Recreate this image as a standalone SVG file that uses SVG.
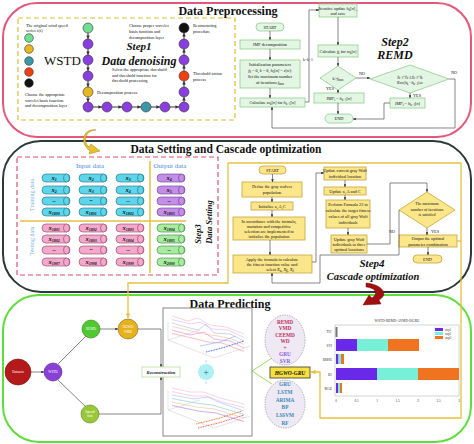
<svg xmlns="http://www.w3.org/2000/svg" width="474" height="444" viewBox="0 0 474 444">
<style>
text{font-family:"Liberation Serif","DejaVu Serif",serif;fill:#111}
.t{font-size:12px;font-weight:bold;text-anchor:middle}
.s{font-size:4.3px;text-anchor:middle}
.sl{font-size:4.3px}
.sb{font-size:3px}
.bi{font-weight:bold;font-style:italic;text-anchor:middle}
.g2{fill:#e3f5e3;stroke:#8fcf8f;stroke-width:0.8}
.y4{fill:#fbe68a;stroke:#c9a43a;stroke-width:0.8}
.ln{fill:none;stroke:#555;stroke-width:0.7}
.la{fill:none;stroke:#555;stroke-width:0.7;marker-end:url(#ah)}
.ch{fill:none;stroke:#222;stroke-width:0.9;marker-end:url(#ah)}
.cp{fill:#8a3ee0;stroke:#333;stroke-width:0.6}
.yl{fill:none;stroke:#e6c040;stroke-width:1.3}
.xl{font-size:6.5px;font-style:italic;font-weight:bold;text-anchor:middle}
.xs{font-size:4px}
.ci{fill:#5dd5ea;stroke:#1f6f80;stroke-width:0.6}
.co{fill:#c48ee8;stroke:#6a3a90;stroke-width:0.6}
.ti{fill:#f4a8cc;stroke:#904060;stroke-width:0.6}
.to{fill:#a8eca0;stroke:#3a8040;stroke-width:0.6}
.nw{fill:#fff;font-size:3.4px;text-anchor:middle}
.gl{fill:none;stroke:#666;stroke-width:0.8}
.m1{font-size:5.3px;font-weight:bold;text-anchor:middle;fill:#c0305a}
.m2{font-size:5.3px;font-weight:bold;text-anchor:middle;fill:#8a60e0}
.m3{font-size:5.3px;font-weight:bold;text-anchor:middle;fill:#3a8ab0}
.ax{font-size:3.4px;fill:#333}
.pl{fill:none;stroke-width:0.5}
</style>
<defs>
<marker id="ah" viewBox="0 0 6 6" refX="6" refY="3" markerWidth="4" markerHeight="4" orient="auto"><path d="M0,0L6,3L0,6z" fill="#333"/></marker>
<marker id="ay" viewBox="0 0 6 6" refX="6" refY="3" markerWidth="3.5" markerHeight="3.5" orient="auto"><path d="M0,0L6,3L0,6z" fill="#e6c040"/></marker>
<g id="cy"><rect x="0" y="-4" width="28" height="8" rx="4"/><ellipse cx="24.5" cy="0" rx="3" ry="4"/></g>
</defs>
<rect width="474" height="444" fill="#fff"/>

<g id="section1">
<rect x="3" y="3" width="468" height="134" rx="34" fill="#fff" stroke="#e4587a" stroke-width="2"/>
<text x="228" y="15" class="t">Data  Preprocessing</text>
</g>

<g id="step1">
<rect x="18" y="18" width="217" height="102" fill="none" stroke="#dcc030" stroke-width="1.2" stroke-dasharray="5,3"/>
<text x="26" y="27" class="sl">The original wind speed</text>
<text x="26" y="32" class="sl">series  s(t)</text>
<circle cx="29" cy="38" r="4.3" fill="#70e090" stroke="#333" stroke-width="0.6"/>
<circle cx="29" cy="49" r="4.3" fill="#e8b820" stroke="#333" stroke-width="0.6"/>
<circle cx="29" cy="61" r="4.3" fill="#3a98a8" stroke="#333" stroke-width="0.6"/>
<circle cx="29" cy="72" r="4.3" fill="#f04010" stroke="#333" stroke-width="0.6"/>
<circle cx="29" cy="83" r="4.3" fill="#111" stroke="#333" stroke-width="0.6"/>
<text x="44" y="65" style="font-size:13px">WSTD</text>
<text x="25" y="96" class="sl">Choose the appropriate</text>
<text x="25" y="101.5" class="sl">wavelet basis function</text>
<text x="25" y="107" class="sl">and decomposition layer</text>
<g id="chain">
<circle cx="88" cy="28" r="5" fill="#70e090" stroke="#333" stroke-width="0.6"/>
<circle cx="88" cy="44" r="5" class="cp"/>
<circle cx="88" cy="60" r="5" class="cp"/>
<circle cx="88" cy="76" r="5" class="cp"/>
<circle cx="88" cy="92" r="5" fill="#e8b820" stroke="#333" stroke-width="0.6"/>
<circle cx="88" cy="107" r="5" class="cp"/>
<circle cx="107" cy="107" r="5" class="cp"/>
<circle cx="127" cy="107" r="5" class="cp"/>
<circle cx="146" cy="107" r="5" fill="#3a98a8" stroke="#333" stroke-width="0.6"/>
<circle cx="165" cy="107" r="5" class="cp"/>
<circle cx="184" cy="107" r="5" class="cp"/>
<circle cx="184" cy="92" r="5" class="cp"/>
<circle cx="184" cy="76" r="5" fill="#f04010" stroke="#333" stroke-width="0.6"/>
<circle cx="184" cy="60" r="5" class="cp"/>
<circle cx="184" cy="44" r="5" class="cp"/>
<circle cx="184" cy="28" r="5" fill="#111" stroke="#333" stroke-width="0.6"/>
</g>
<g id="chain-arrows">
<path class="ch" d="M88,33V39"/><path class="ch" d="M88,49V55"/><path class="ch" d="M88,65V71"/><path class="ch" d="M88,81V87"/><path class="ch" d="M88,97V102"/>
<path class="ch" d="M93,107H102"/><path class="ch" d="M112,107H122"/><path class="ch" d="M132,107H141"/><path class="ch" d="M151,107H160"/><path class="ch" d="M170,107H179"/>
<path class="ch" d="M184,102V97"/><path class="ch" d="M184,87V81"/><path class="ch" d="M184,71V65"/><path class="ch" d="M184,55V49"/><path class="ch" d="M184,39V33"/>
</g>
<text x="129" y="27" class="sl">Choose proper wavelet</text>
<text x="129" y="33" class="sl">basis function and</text>
<text x="129" y="39" class="sl">decomposition layer</text>
<text x="193" y="27" class="sl">Restructuring</text>
<text x="193" y="32.5" class="sl">procedure</text>
<text x="139" y="50" class="bi" style="font-size:11px">Step1</text>
<text x="139" y="65" class="bi" style="font-size:12px">Data denoising</text>
<text x="112" y="71" class="sl">Select the appropriate threshold</text>
<text x="112" y="76.5" class="sl">and  threshold function for</text>
<text x="112" y="82" class="sl">threshold processing</text>
<text x="193" y="75" class="sl">Threshold action</text>
<text x="193" y="80.5" class="sl">process</text>
<text x="97" y="93.5" class="sl">Decomposition process</text>
</g>

<g id="step2">
<g id="s2-start"><rect x="256" y="23" width="28" height="8" rx="4" class="g2"/><text x="270" y="28.6" class="s">START</text></g>
<g id="s2-imf"><rect x="240" y="40" width="60" height="9" class="g2"/><text x="270" y="46" class="s">IMF decomposition</text></g>
<g id="s2-init"><rect x="240" y="60" width="60" height="28" class="g2"/>
<text x="270" y="66" class="s">Initialization parameters</text>
<text x="270" y="72" class="s"><tspan font-style="italic">f</tspan><tspan class="sb" dy="1">0</tspan><tspan dy="-1"> = 0, </tspan><tspan font-style="italic">k</tspan> = 0, <tspan font-style="italic">h</tspan><tspan class="sb" dy="1">0</tspan><tspan dy="-1">[</tspan><tspan font-style="italic">n</tspan>] = <tspan font-style="italic">z</tspan>[<tspan font-style="italic">n</tspan>];</text>
<text x="270" y="78" class="s">Set the maximum number</text>
<text x="270" y="84" class="s">of iterations<tspan font-style="italic"> f</tspan><tspan class="sb" dy="1">max</tspan></text></g>
<g id="s2-calcm"><rect x="240" y="98" width="65" height="9" class="g2"/><text x="272.5" y="104" class="s">Calculate <tspan font-style="italic">m</tspan><tspan class="sb" dy="1">k</tspan><tspan dy="-1">[</tspan><tspan font-style="italic">n</tspan>] for <tspan font-style="italic">h</tspan><tspan class="sb" dy="1">k−1</tspan><tspan dy="-1">[</tspan><tspan font-style="italic">n</tspan>]</text></g>
<g id="s2-iter"><rect x="319" y="4" width="38" height="13" class="g2"/><text x="338" y="9.5" class="s">Iterative update <tspan font-style="italic">h</tspan><tspan class="sb" dy="1">k</tspan><tspan dy="-1">[</tspan><tspan font-style="italic">n</tspan>] ,</text><text x="338" y="15" class="s">and save</text></g>
<g id="s2-calcf"><rect x="318" y="45" width="40" height="12" class="g2"/><text x="338" y="52.5" class="s">Calculate <tspan font-style="italic">f</tspan><tspan class="sb" dy="1">k</tspan><tspan dy="-1"> for </tspan><tspan font-style="italic">m</tspan><tspan class="sb" dy="1">k</tspan><tspan dy="-1">[</tspan><tspan font-style="italic">n</tspan>]</text></g>
<g id="s2-d1"><polygon points="338,66 356,78 338,90 320,78" class="g2"/><text x="338" y="79.5" class="s">k&gt;<tspan font-style="italic">f</tspan><tspan class="sb" dy="1">max</tspan></text></g>
<g id="s2-d2"><polygon points="410,65 449,79 410,93 370,79" class="g2"/>
<text x="410" y="77.5" class="s" style="font-size:3.8px"><tspan font-style="italic">f</tspan><tspan class="sb" dy="1">k−1</tspan><tspan dy="-1">&lt;</tspan><tspan font-style="italic">f</tspan><tspan class="sb" dy="1">k−2</tspan><tspan dy="-1">,</tspan><tspan font-style="italic">f</tspan><tspan class="sb" dy="1">k−1</tspan><tspan dy="-1">&lt;</tspan><tspan font-style="italic">f</tspan><tspan class="sb" dy="1">k</tspan></text>
<text x="410" y="83.5" class="s" style="font-size:3.8px"><tspan font-style="italic">Rms</tspan>(<tspan font-style="italic">h</tspan><tspan class="sb" dy="1">k</tspan><tspan dy="-1"> −</tspan><tspan font-style="italic">h</tspan><tspan class="sb" dy="1">k−1</tspan><tspan dy="-1">)≤ε</tspan></text></g>
<g id="s2-imf1"><rect x="314" y="93" width="50" height="10" class="g2"/><text x="339" y="99.5" class="s"><tspan font-style="italic">IMF</tspan><tspan class="sb" dy="1">i</tspan><tspan dy="-1"> = </tspan><tspan font-style="italic">h</tspan><tspan class="sb" dy="1">k−1</tspan><tspan dy="-1">[</tspan><tspan font-style="italic">n</tspan>]</text></g>
<g id="s2-imf2"><rect x="390" y="98" width="35" height="10" class="g2"/><text x="407.5" y="104.5" class="s"><tspan font-style="italic">IMF</tspan><tspan class="sb" dy="1">i</tspan><tspan dy="-1"> = </tspan><tspan font-style="italic">h</tspan><tspan class="sb" dy="1">k−1</tspan><tspan dy="-1">[</tspan><tspan font-style="italic">n</tspan>]</text></g>
<g id="s2-end"><rect x="325" y="114" width="28" height="9" rx="4.5" class="g2"/><text x="339" y="120" class="s">END</text></g>
<text x="308" y="61" class="s" style="font-size:3.8px">k=k+1</text>
<text x="362" y="75" class="s">NO</text>
<text x="454" y="74" class="s">NO</text>
<text x="330" y="90" class="s">YES</text>
<text x="417" y="97" class="s">YES</text>
<text x="395" y="46" class="bi" style="font-size:12px">Step2</text>
<text x="395" y="59" class="bi" style="font-size:12px">REMD</text>
</g>

<g id="section2">
<rect x="3" y="141" width="468" height="151" rx="38" fill="#fff" stroke="#2b3a38" stroke-width="2"/>
<text x="226" y="153" class="t" style="font-size:11.5px">Data Setting and Cascade optimization</text>
</g>

<g id="step3">
<rect x="17" y="157" width="201" height="118" fill="none" stroke="#e05070" stroke-width="1.2" stroke-dasharray="5,3"/>
<text x="90" y="168" style="font-size:7px;fill:#4a8ee0" text-anchor="middle">Input data</text>
<text x="170" y="168" style="font-size:7px;fill:#4a8ee0" text-anchor="middle">Output data</text>
<path d="M150,161V273M20,221H186" stroke="#e6c040" stroke-width="1.5" fill="none"/>
<text x="34" y="195" transform="rotate(-90 34 195)" text-anchor="middle" style="font-size:6px;fill:#80b0e0">Training data</text>
<text x="34" y="241" transform="rotate(-90 34 241)" text-anchor="middle" style="font-size:6px;fill:#80b0e0">Testing data</text>
<g id="cylinders">
<use href="#cy" x="42" y="178" class="ci"/><use href="#cy" x="42" y="190" class="ci"/><use href="#cy" x="42" y="201" class="ci"/><use href="#cy" x="42" y="212" class="ci"/>
<use href="#cy" x="79" y="178" class="ci"/><use href="#cy" x="79" y="190" class="ci"/><use href="#cy" x="79" y="201" class="ci"/><use href="#cy" x="79" y="212" class="ci"/>
<use href="#cy" x="116" y="178" class="ci"/><use href="#cy" x="116" y="190" class="ci"/><use href="#cy" x="116" y="201" class="ci"/><use href="#cy" x="116" y="212" class="ci"/>
<use href="#cy" x="157" y="178" class="co"/><use href="#cy" x="157" y="190" class="co"/><use href="#cy" x="157" y="201" class="co"/><use href="#cy" x="157" y="212" class="co"/>
<use href="#cy" x="42" y="228" class="ti"/><use href="#cy" x="42" y="239" class="ti"/><use href="#cy" x="42" y="250" class="ti"/><use href="#cy" x="42" y="262" class="ti"/>
<use href="#cy" x="79" y="228" class="ti"/><use href="#cy" x="79" y="239" class="ti"/><use href="#cy" x="79" y="250" class="ti"/><use href="#cy" x="79" y="262" class="ti"/>
<use href="#cy" x="116" y="228" class="ti"/><use href="#cy" x="116" y="239" class="ti"/><use href="#cy" x="116" y="250" class="ti"/><use href="#cy" x="116" y="262" class="ti"/>
<use href="#cy" x="157" y="228" class="to"/><use href="#cy" x="157" y="239" class="to"/><use href="#cy" x="157" y="250" class="to"/><use href="#cy" x="157" y="262" class="to"/>
</g>
<g id="cyl-labels">
<text x="54" y="180" class="xl">x<tspan class="xs" dy="1">1</tspan></text>
<text x="54" y="192" class="xl">x<tspan class="xs" dy="1">2</tspan></text>
<text x="54" y="203" class="xl">–</text>
<text x="54" y="214" class="xl">x<tspan class="xs" dy="1">1800</tspan></text>
<text x="91" y="180" class="xl">x<tspan class="xs" dy="1">2</tspan></text>
<text x="91" y="192" class="xl">x<tspan class="xs" dy="1">3</tspan></text>
<text x="91" y="203" class="xl">··</text>
<text x="91" y="214" class="xl">x<tspan class="xs" dy="1">1801</tspan></text>
<text x="128" y="180" class="xl">x<tspan class="xs" dy="1">3</tspan></text>
<text x="128" y="192" class="xl">x<tspan class="xs" dy="1">4</tspan></text>
<text x="128" y="203" class="xl">–</text>
<text x="128" y="214" class="xl">x<tspan class="xs" dy="1">1802</tspan></text>
<text x="169" y="180" class="xl">x<tspan class="xs" dy="1">4</tspan></text>
<text x="169" y="192" class="xl">x<tspan class="xs" dy="1">5</tspan></text>
<text x="169" y="203" class="xl">–</text>
<text x="169" y="214" class="xl">x<tspan class="xs" dy="1">1803</tspan></text>
<text x="54" y="230" class="xl">x<tspan class="xs" dy="1">1801</tspan></text>
<text x="54" y="241" class="xl">x<tspan class="xs" dy="1">1802</tspan></text>
<text x="54" y="252" class="xl">–</text>
<text x="54" y="264" class="xl">x<tspan class="xs" dy="1">1997</tspan></text>
<text x="91" y="230" class="xl">x<tspan class="xs" dy="1">1802</tspan></text>
<text x="91" y="241" class="xl">x<tspan class="xs" dy="1">1803</tspan></text>
<text x="91" y="252" class="xl">··</text>
<text x="91" y="264" class="xl">x<tspan class="xs" dy="1">1998</tspan></text>
<text x="128" y="230" class="xl">x<tspan class="xs" dy="1">1803</tspan></text>
<text x="128" y="241" class="xl">x<tspan class="xs" dy="1">1804</tspan></text>
<text x="128" y="252" class="xl">–</text>
<text x="128" y="264" class="xl">x<tspan class="xs" dy="1">1999</tspan></text>
<text x="169" y="230" class="xl">x<tspan class="xs" dy="1">1804</tspan></text>
<text x="169" y="241" class="xl">x<tspan class="xs" dy="1">1805</tspan></text>
<text x="169" y="252" class="xl">–</text>
<text x="169" y="264" class="xl">x<tspan class="xs" dy="1">2000</tspan></text>
</g>
<text x="201" y="234" transform="rotate(-90 201 234)" class="bi" style="font-size:8.5px">Step3</text>
<text x="212" y="222" transform="rotate(-90 212 222)" class="bi" style="font-size:8.5px">Data Setting</text>
</g>

<g id="step4">
<g id="s4-start"><rect x="259" y="166" width="27" height="8" rx="4" class="y4"/><text x="272.5" y="171.6" class="s">START</text></g>
<g id="s4-define"><rect x="242" y="182" width="60" height="15" class="y4"/><text x="272" y="188" class="s">Define the gray wolves</text><text x="272" y="194" class="s">population</text></g>
<g id="s4-init"><rect x="251" y="202" width="42" height="8" class="y4"/><text x="272" y="207.5" class="s">Initialize a, A,C</text></g>
<g id="s4-accord"><rect x="233" y="217" width="72" height="23" class="y4"/>
<text x="269" y="222.5" class="s">In accordance with the formula,</text>
<text x="269" y="227.7" class="s">mutation and competitive</text>
<text x="269" y="232.9" class="s">selection are implemented to</text>
<text x="269" y="238.1" class="s">initialize the population</text></g>
<g id="s4-apply"><rect x="233" y="255" width="79" height="18" class="y4"/>
<text x="272" y="260.5" class="s">Apply the formula to calculate</text>
<text x="272" y="265.7" class="s">the fitness function value and</text>
<text x="280" y="271" class="s">select <tspan font-style="italic">X</tspan><tspan class="sb" dy="1">α</tspan><tspan dy="-1">, </tspan><tspan font-style="italic">X</tspan><tspan class="sb" dy="1">β</tspan><tspan dy="-1">, </tspan><tspan font-style="italic">X</tspan><tspan class="sb" dy="1">δ</tspan></text></g>
<g id="s4-update"><rect x="324" y="167" width="42" height="13" class="y4"/><text x="345" y="172.3" class="s">Update current gray Wolf</text><text x="345" y="177.8" class="s">individual location</text></g>
<g id="s4-uaac"><rect x="324" y="187" width="42" height="8" class="y4"/><text x="345" y="192.6" class="s">Update a, A and C</text></g>
<g id="s4-perform"><rect x="326" y="200" width="44" height="28" class="y4"/>
<text x="348" y="206" class="s">Perform Formula 22 to</text>
<text x="348" y="212" class="s">calculate the target fitness</text>
<text x="348" y="218" class="s">values of all gray Wolf</text>
<text x="348" y="224" class="s">individuals</text></g>
<g id="s4-ugw"><rect x="331" y="235" width="36" height="18" class="y4"/>
<text x="349" y="240.5" class="s">Update gray Wolf</text>
<text x="349" y="245.5" class="s">individuals in three</text>
<text x="349" y="250.5" class="s">optimal locations</text></g>
<g id="s4-dia"><polygon points="427,192 455,210 427,228 399,210" class="y4"/>
<text x="427" y="205" class="s" style="font-size:4px">The maximum</text>
<text x="427" y="210.5" class="s" style="font-size:4px">number of iterations</text>
<text x="427" y="216" class="s" style="font-size:4px">is satisfied</text></g>
<g id="s4-output"><rect x="399" y="235" width="58" height="12" class="y4"/><text x="428" y="240.3" class="s">Output the optimal</text><text x="428" y="245.5" class="s">parameter combination</text></g>
<g id="s4-end"><rect x="413" y="255" width="29" height="8" rx="4" class="y4"/><text x="427.5" y="260.7" class="s">END</text></g>
<text x="392" y="233" class="s">NO</text>
<text x="435" y="233" class="s">YES</text>
<text x="372" y="267" class="bi" style="font-size:11px">Step4</text>
<text x="373" y="280" class="bi" style="font-size:10.5px">Cascade optimization</text>
</g>

<g id="section3">
<rect x="3" y="295" width="468" height="147" rx="36" fill="#fff" stroke="#5ede3a" stroke-width="2"/>
<text x="230" y="308" class="t">Data Predicting</text>
</g>

<g id="connectors">
<path class="la" d="M270,31V40"/>
<path class="la" d="M270,49V60"/>
<path class="la" d="M270,88V98"/>
<path class="la" d="M305,102H309V10H319"/>
<path class="la" d="M338,17V45"/>
<path class="la" d="M338,57V66"/>
<path class="la" d="M356,78H370"/>
<path class="la" d="M338,90V93"/>
<path class="la" d="M338,103V114"/>
<path class="la" d="M410,93V98"/>
<path class="la" d="M390,103H384V119H353"/>
<path class="la" d="M449,79H455V128H272V107"/>
<path class="la" d="M272.5,174V182"/>
<path class="la" d="M272,197V202"/>
<path class="la" d="M272,210V217"/>
<path class="la" d="M270,240V255"/>
<path class="la" d="M312,262H316V173H324"/>
<path class="la" d="M345,180V187"/>
<path class="la" d="M345,195V200"/>
<path class="la" d="M348,228V235"/>
<path class="la" d="M367,244H390V183H427V192"/>
<path class="la" d="M399,210V255H320V283H272V273"/>
<path class="la" d="M427,228V235"/>
<path class="la" d="M428,247V255"/>
<path class="yl" d="M457,241H461"/>
<path class="yl" d="M228,163V283H128V318" marker-end="url(#ay)"/>
<path class="yl" d="M228,163H461V418H320V372H311" marker-end="url(#ay)"/>
<path class="la" d="M31,372H44"/>
<path class="gl" d="M58,364L86,336M58,380L86,407"/>
<path class="la" d="M100,329H118"/>
<path class="la" d="M138,329H161V367"/>
<path class="la" d="M99,414H161V377"/>
<path d="M252,371L272,358M252,371L272,384" fill="none" stroke="#8ddd55" stroke-width="0.9"/>
<path d="M96,130C86,130 82,141 89,147L91,144L100,151L89,154L90,151C79,143 83,128 96,130Z" fill="#e8c030" stroke="#a08010" stroke-width="0.5"/>
<path d="M366,283C381,284 390,294 379,300L381,304L363,305L369,295L372,298C379,293 375,288 366,287Z" fill="#a01010" stroke="#600" stroke-width="0.4"/>
</g>

<g id="network">
<g id="n-datasets"><circle cx="18" cy="372" r="13" fill="#b41a1a" stroke="#7a1010" stroke-width="0.6"/><text x="18" y="373.2" class="nw">Datasets</text></g>
<g id="n-wstd"><circle cx="53" cy="372" r="9" fill="#8a40d8" stroke="#502080" stroke-width="0.6"/><text x="53" y="373.2" class="nw">WSTD</text></g>
<g id="n-remd"><circle cx="91" cy="329" r="9" fill="#50c830" stroke="#308018" stroke-width="0.6"/><text x="91" y="330.2" class="nw">REMD</text></g>
<g id="n-spread"><circle cx="90" cy="414" r="9" fill="#98c838" stroke="#608018" stroke-width="0.6"/><text x="90" y="413" class="nw">Spread</text><text x="90" y="417" class="nw">state</text></g>
<g id="n-hgwovmd"><circle cx="128" cy="329" r="10" fill="#e6b21c" stroke="#806010" stroke-width="0.6"/><text x="128" y="328" class="nw">HGWO</text><text x="128" y="332.5" class="nw">VMD</text></g>
</g>

<g id="plot">
<rect x="163" y="308" width="89" height="128" fill="#fff" stroke="#888" stroke-width="1"/>
<path d="M168,322V340L214,358L250,346M168,340L200,330" fill="none" stroke="#bbb" stroke-width="0.4"/>
<polyline class="pl" stroke="#f0a8c8" points="172,316 188,321 198,318 210,325 226,327 244,334"/>
<polyline class="pl" stroke="#e0a0e8" points="172,319.5 190,324 200,322 212,329 228,330 244,337.5"/>
<polyline class="pl" stroke="#a0a8f0" points="172,323 186,327 198,330 206,324 214,333 230,334 244,341"/>
<polyline class="pl" stroke="#f0b080" points="172,326.5 192,331 204,334 218,336 232,339 244,344.5"/>
<polyline class="pl" stroke="#d070d0" points="172,330 190,335 204,332 214,339 230,341 244,348"/>
<polyline class="pl" stroke="#f08080" points="172,333.5 192,338 208,342 222,343 244,351.5"/>
<polyline fill="none" stroke="#3070e0" stroke-width="1" stroke-dasharray="1,0.7" points="206,352 222,348 244,341"/>
<polyline class="pl" stroke="#60a0f0" points="200,346 220,342 236,336"/>
<path d="M168,390V410L214,428L250,416M168,410L200,400" fill="none" stroke="#bbb" stroke-width="0.4"/>
<polyline class="pl" stroke="#f0a8c8" points="172,388 190,392 204,392 220,398 244,404"/>
<polyline class="pl" stroke="#e0a0e8" points="172,391.5 192,396 206,396 222,402 244,407.5"/>
<polyline class="pl" stroke="#a0a8f0" points="172,395 194,399 208,397 216,401 244,411"/>
<polyline class="pl" stroke="#60c0c0" points="172,398.5 196,403 212,405 244,414.5"/>
<polyline class="pl" stroke="#f0b080" points="172,402 196,407 214,409 244,418"/>
<polyline class="pl" stroke="#9060e0" points="172,405.5 198,411 216,413 244,421.5"/>
<polyline fill="none" stroke="#f07020" stroke-width="1" stroke-dasharray="1,0.7" points="196,424 220,418 242,411"/>
<polyline fill="none" stroke="#e03030" stroke-width="0.8" stroke-dasharray="1,0.7" points="198,428 222,422 244,415"/>
<circle cx="206" cy="372" r="8" fill="#aef0f4"/>
<text x="206" y="375.5" text-anchor="middle" style="font-size:10px;fill:#2a6a80">+</text>
<path d="M206,360V363M206,381V384" stroke="#88c8d8" stroke-width="0.6"/>
</g>

<g id="n-reconstruction"><rect x="142" y="367" width="38" height="10" fill="#fff" stroke="#b8dca0" stroke-width="0.8"/><text x="161" y="373.5" class="bi" style="font-size:4.6px">Reconstruction</text></g>

<g id="models">
<g id="m-decomp"><ellipse cx="285" cy="340" rx="20" ry="25" fill="#efe8f5" stroke="#888" stroke-width="0.6" stroke-dasharray="1.5,1"/>
<text x="285" y="323.5" class="m1">REMD</text>
<text x="285" y="330" class="m1">VMD</text>
<text x="285" y="336.5" class="m1">CEEMD</text>
<text x="285" y="343" class="m1">WD</text>
<text x="285" y="349.5" class="m1">+</text>
<text x="285" y="356" class="m2">GRU</text>
<text x="285" y="362.5" class="m2">SVR</text></g>
<g id="m-single"><ellipse cx="285" cy="404" rx="20" ry="24" fill="#efe8f5" stroke="#888" stroke-width="0.6" stroke-dasharray="1.5,1"/>
<text x="285" y="386" class="m3">GRU</text>
<text x="285" y="393.8" class="m3">LSTM</text>
<text x="285" y="401.6" class="m3">ARIMA</text>
<text x="285" y="409.4" class="m3">BP</text>
<text x="285" y="417.2" class="m3">LSSVM</text>
<text x="285" y="425" class="m3">RF</text></g>
<g id="m-hgwogru"><rect x="270" y="367" width="40" height="11" fill="#f8e040" stroke="#333" stroke-width="0.8"/><text x="290" y="374.6" class="bi" style="font-size:5.5px">HGWO-GRU</text></g>
</g>

<g id="chart">
<text x="397" y="322" text-anchor="middle" style="font-size:3.6px;fill:#333">WSTD-REMD-AVMD-DGRU</text>
<rect x="335" y="325" width="124" height="71" fill="#fff" stroke="#aaa" stroke-width="0.5"/>
<rect x="335.5" y="327" width="2" height="10" fill="#777"/>
<rect x="336" y="339" width="21" height="12" fill="#6a28e8"/><rect x="357" y="339" width="31" height="12" fill="#78f0d8"/><rect x="388" y="339" width="31" height="12" fill="#f07420"/>
<rect x="336" y="354" width="2.5" height="10" fill="#6a28e8"/><rect x="338.5" y="354" width="2.5" height="10" fill="#78f0d8"/><rect x="341" y="354" width="3" height="10" fill="#f07420"/>
<rect x="336" y="368" width="41" height="12" fill="#6a28e8"/><rect x="377" y="368" width="41" height="12" fill="#78f0d8"/><rect x="418" y="368" width="41" height="12" fill="#f07420"/>
<rect x="336" y="383" width="2" height="10" fill="#6a28e8"/><rect x="338" y="383" width="2" height="10" fill="#78f0d8"/><rect x="340" y="383" width="2" height="10" fill="#f07420"/>
<text x="332" y="333" text-anchor="end" class="ax">TIC</text>
<text x="332" y="346.5" text-anchor="end" class="ax">SVI</text>
<text x="332" y="360.5" text-anchor="end" class="ax">RMSE</text>
<text x="332" y="375.5" text-anchor="end" class="ax">R2</text>
<text x="332" y="389.5" text-anchor="end" class="ax">MAE</text>
<text x="336" y="402" text-anchor="middle" class="ax">0</text>
<text x="356.5" y="402" text-anchor="middle" class="ax">0.5</text>
<text x="377" y="402" text-anchor="middle" class="ax">1</text>
<text x="397.5" y="402" text-anchor="middle" class="ax">1.5</text>
<text x="418" y="402" text-anchor="middle" class="ax">2</text>
<text x="438.5" y="402" text-anchor="middle" class="ax">2.5</text>
<text x="459" y="402" text-anchor="middle" class="ax">3</text>
<rect x="434" y="327" width="21" height="13" fill="#fff" stroke="#ccc" stroke-width="0.3"/>
<rect x="435" y="328" width="8" height="3" fill="#6a28e8"/><text x="445" y="330.8" class="ax" style="font-size:3px">step1</text>
<rect x="435" y="332" width="8" height="3" fill="#78f0d8"/><text x="445" y="334.8" class="ax" style="font-size:3px">step2</text>
<rect x="435" y="336" width="8" height="3" fill="#f07420"/><text x="445" y="338.8" class="ax" style="font-size:3px">step3</text>
</g>
</svg>
